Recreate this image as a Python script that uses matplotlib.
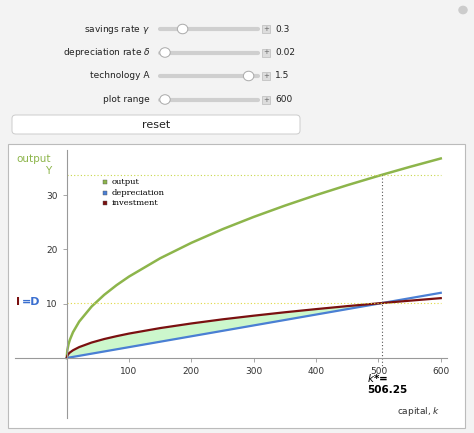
import matplotlib
matplotlib.use("Agg")
import matplotlib.pyplot as plt
from matplotlib.patches import FancyBboxPatch, Rectangle, Circle
from matplotlib.lines import Line2D

capital = [0, 1, 3, 5, 10, 20, 40, 60, 80, 100, 150, 200, 250, 300, 350, 400, 450, 506.25, 550, 600]
output = [0, 1.5, 2.6, 3.35, 4.74, 6.71, 9.49, 11.62, 13.42, 15.0, 18.37, 21.21, 23.72, 25.98, 28.06, 30.0, 31.82, 33.75, 35.18, 36.74]
investment = [0, 0.45, 0.78, 1.01, 1.42, 2.01, 2.85, 3.49, 4.02, 4.5, 5.51, 6.36, 7.12, 7.79, 8.42, 9.0, 9.55, 10.125, 10.55, 11.02]
depreciation = [0, 0.02, 0.06, 0.1, 0.2, 0.4, 0.8, 1.2, 1.6, 2.0, 3.0, 4.0, 5.0, 6.0, 7.0, 8.0, 9.0, 10.125, 11.0, 12.0]
k_star = 506.25
y_star = 33.75
i_star = 10.125
slider_labels = ["savings rate $\\gamma$", "depreciation rate $\\delta$", "technology A", "plot range"]
slider_values = ["0.3", "0.02", "1.5", "600"]
slider_frac = [0.2, 0.0, 0.95, 0.0]

W, H = 474, 433
fig = plt.figure(figsize=(W/100, H/100), dpi=100, facecolor="#f3f3f3")

def fx(x): return x / W
def fy(y): return 1 - y / H

# controls
for i, (lab, val, fr) in enumerate(zip(slider_labels, slider_values, slider_frac)):
    y = 29 + i * 23.5
    fig.text(fx(150), fy(y), lab, ha="right", va="center", fontsize=6.5, color="#222")
    fig.add_artist(Line2D([fx(160), fx(258)], [fy(y), fy(y)], color="#cfcfcf", lw=3, solid_capstyle="round"))
    tx = 165 + 88 * fr
    fig.add_artist(Circle((fx(tx), fy(y)), 0.011, transform=fig.transFigure, facecolor="white",
                          edgecolor="#aaa", lw=0.7, zorder=5))
    fig.add_artist(Rectangle((fx(262), fy(y + 4)), fx(8), 8 / H, transform=fig.transFigure,
                             facecolor="#ddd", edgecolor="#bbb", lw=0.5))
    fig.text(fx(266), fy(y), "+", ha="center", va="center", fontsize=5, color="#666")
    fig.text(fx(275), fy(y), val, ha="left", va="center", fontsize=6.5, color="#222")
fig.add_artist(FancyBboxPatch((fx(12), fy(134)), fx(288), 19 / H, boxstyle="round,pad=0,rounding_size=0.008",
                              transform=fig.transFigure, facecolor="white", edgecolor="#ccc", lw=0.7))
fig.text(fx(156), fy(124.5), "reset", ha="center", va="center", fontsize=8, color="#222")
fig.add_artist(Circle((fx(463), fy(10)), 0.01, transform=fig.transFigure, facecolor="#ccc", edgecolor="none"))

# plot panel
panel = Rectangle((fx(8), fy(428)), fx(457), 284 / H, transform=fig.transFigure,
                  facecolor="white", edgecolor="#bbb", lw=0.8, zorder=-5)
fig.add_artist(panel)

ax = fig.add_axes([fx(15), fy(418), fx(432), 268 / H])
ax.set_zorder(3)
ax.set_facecolor("none")
ax.set_xlim(-83, 610)
ax.set_ylim(-11.05, 38.3)
for s in ["top", "right"]:
    ax.spines[s].set_visible(False)
ax.spines["left"].set_position(("data", 0))
ax.spines["bottom"].set_position(("data", 0))
for s in ["left", "bottom"]:
    ax.spines[s].set_color("#999")
    ax.spines[s].set_linewidth(0.8)
ax.set_xticks([100, 200, 300, 400, 500, 600])
ax.set_yticks([10, 20, 30])
ax.tick_params(labelsize=6.5, length=3, width=0.6, color="#999", labelcolor="#333")

ax.fill_between(capital[:18], investment[:18], depreciation[:18], color="#ccf7cc", lw=0)
ax.plot(capital, output, color="#8db54b", lw=1.8)
ax.plot(capital, depreciation, color="#4a7fd4", lw=1.6)
ax.plot(capital, investment, color="#7a1010", lw=1.6)
ax.plot([0, 600], [y_star, y_star], color="#c8d84a", lw=0.8, ls=(0, (1, 2)))
ax.plot([0, 600], [i_star, i_star], color="#e0d840", lw=0.8, ls=(0, (1, 2)))
ax.plot([k_star, k_star], [-2, y_star], color="#555", lw=0.8, ls=(0, (1, 2)))

ax.text(-25, 35.5, "output\nY", color="#8db54b", fontsize=7.5, ha="right", va="center", multialignment="right")
ax.text(-82, 10.3, "I", color="#7a1010", fontsize=8, ha="left", va="center", fontweight="bold")
ax.text(-72, 10.3, "=D", color="#3a6fd0", fontsize=8, ha="left", va="center", fontweight="bold")
ax.text(k_star - 25, -2.5, "$k$*=\n506.25", fontsize=7.5, ha="left", va="top", fontweight="bold")
ax.text(600, -9.8, "capital, $k$", fontsize=6.5, ha="right", va="center", color="#333")

# legend
leg = [("output", "#8db54b"), ("depreciation", "#4a7fd4"), ("investment", "#7a1010")]
for j, (t, c) in enumerate(leg):
    yy = 32.4 - j * 1.95
    ax.scatter([62], [yy], marker="s", s=12, color=c, edgecolors="#555", linewidths=0.3)
    ax.text(72, yy, t, fontsize=6, family="DejaVu Serif", va="center")

fig.savefig("out.png", dpi=100, facecolor=fig.get_facecolor())
